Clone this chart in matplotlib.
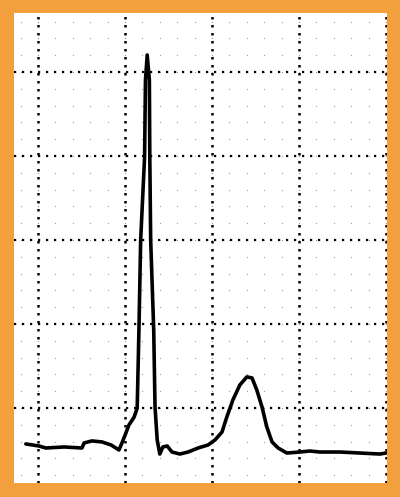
import numpy as np
import matplotlib
matplotlib.use('Agg')
import matplotlib.pyplot as plt

# ECG trace, time in seconds and amplitude in mV
time_s = [-0.028, 0.002, 0.018, 0.060, 0.101, 0.106, 0.124, 0.147, 0.168, 0.186,
          0.193, 0.202, 0.209, 0.221, 0.228, 0.232, 0.236, 0.245, 0.247, 0.251,
          0.256, 0.257, 0.259, 0.266, 0.269, 0.274, 0.280, 0.287, 0.297, 0.308,
          0.326, 0.345, 0.368, 0.391, 0.407, 0.423, 0.434, 0.448, 0.464, 0.480,
          0.492, 0.503, 0.515, 0.526, 0.538, 0.552, 0.572, 0.602, 0.625, 0.648,
          0.694, 0.740, 0.786, 0.800]
volt_mv = [-0.214, -0.226, -0.238, -0.232, -0.238, -0.208, -0.196, -0.202, -0.220, -0.250,
           -0.208, -0.149, -0.101, -0.054, 0.000, 0.464, 1.000, 1.494, 1.952, 2.101,
           1.952, 1.494, 1.000, 0.464, 0.006, -0.190, -0.274, -0.232, -0.226, -0.262,
           -0.274, -0.262, -0.238, -0.220, -0.190, -0.143, -0.054, 0.048, 0.137, 0.185,
           0.179, 0.107, 0.006, -0.113, -0.202, -0.238, -0.268, -0.262, -0.256, -0.262,
           -0.262, -0.268, -0.274, -0.268]

# grid spacing of the chart paper
major_t = [0.0, 0.2, 0.4, 0.6, 0.8]
major_v = [0.0, 0.5, 1.0, 1.5, 2.0]

fig = plt.figure(figsize=(4.0, 4.97), dpi=100, facecolor='#F2A03D')
ax = fig.add_axes([14/400, 14/497, 373/400, 470/497])
ax.set_facecolor('white')
ax.set_xlim(-0.0552, 0.8023)
ax.set_ylim(-0.4464, 2.351)
for s in ax.spines.values():
    s.set_visible(False)
ax.set_xticks([])
ax.set_yticks([])

# minor dots at small-square corners
mt = np.arange(-0.04, 0.81, 0.04)
mv = np.arange(-0.4, 2.35, 0.1)
gt, gv = np.meshgrid(mt, mv)
ax.scatter(gt.ravel(), gv.ravel(), s=0.8, color='#9a9a9a', linewidths=0, zorder=1)

# major dotted grid
for t in major_t:
    ax.axvline(t, color='black', lw=1.8, linestyle=(0, (1, 2.2)), zorder=2)
for v in major_v:
    ax.axhline(v, color='black', lw=1.6, linestyle=(0, (1, 2.6)), zorder=2)

ax.plot(time_s, volt_mv, color='black', lw=2.6, solid_joinstyle='round',
        solid_capstyle='round', zorder=3)

fig.savefig('out.png', dpi=100, facecolor=fig.get_facecolor())
